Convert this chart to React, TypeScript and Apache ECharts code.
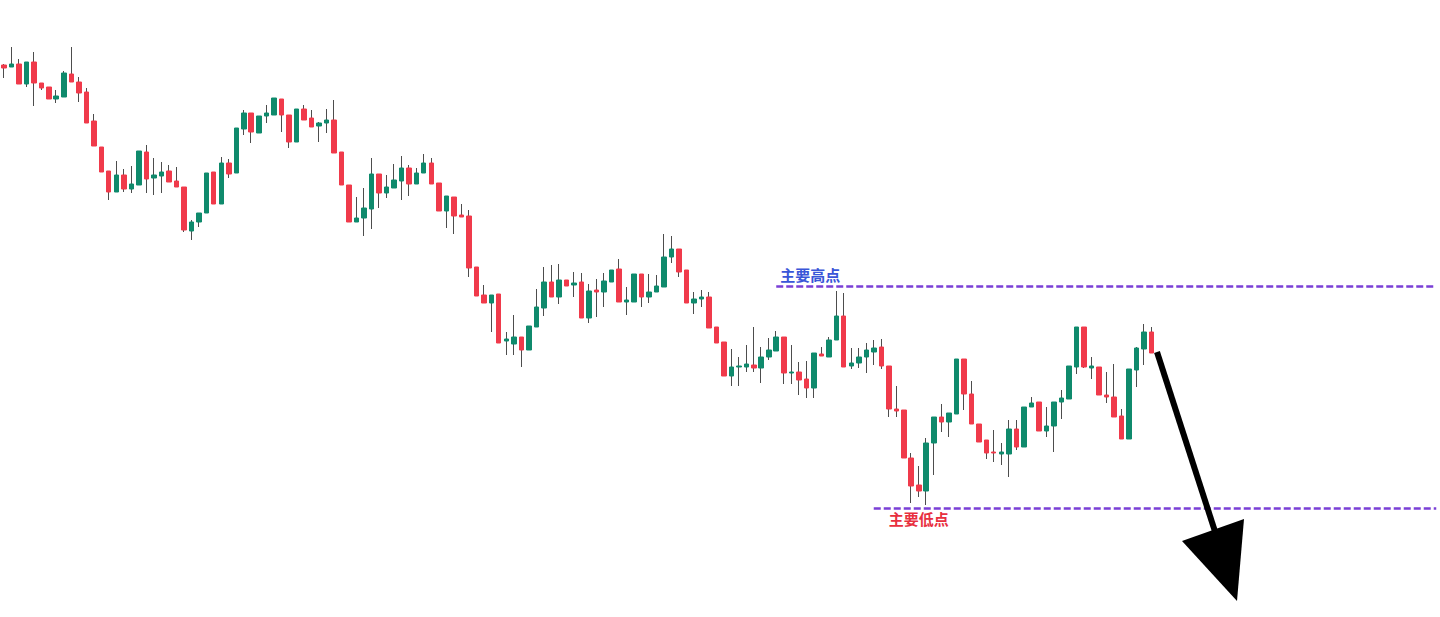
import React, { useEffect, useRef } from "react";
import * as echarts from "echarts";

// Candle values (price units), one entry per session
const opens = [535,533,536,516,538,517,513,501,503,526,518,508,479,453,429,408,425,411,415,448,422,424,429,419,413,369,378,387,428,396,437,427,471,487,467,484,485,501,485,458,491,482,474,477,480,448,415,378,382,391,426,407,412,419,432,416,427,437,417,389,403,385,384,333,305,297,306,259,256,263,250,273,292,318,303,320,315,318,282,310,308,318,331,298,298,326,303,308,313,343,351,330,297,301,303,273,258,224,233,233,235,232,243,249,263,227,228,221,212,246,243,260,284,234,237,243,248,253,234,191,190,142,115,109,157,183,178,186,241,206,176,160,148,146,146,171,153,193,198,169,174,198,201,233,273,232,233,205,203,184,161,230,251,268];
const closes = [532,536,516,538,517,512,501,504,527,518,507,477,454,428,408,425,411,416,449,421,425,428,418,413,370,378,387,427,396,437,426,472,487,468,484,487,502,485,458,491,480,473,477,480,447,415,378,382,392,426,407,413,420,432,416,427,437,416,389,404,384,383,332,304,297,305,257,261,263,250,274,293,318,303,320,314,317,282,309,308,319,330,298,300,326,303,308,314,343,351,328,297,301,303,272,257,224,233,234,236,232,243,250,263,227,228,220,212,247,244,260,284,233,237,243,250,252,234,191,189,142,114,109,157,183,178,187,241,206,176,158,147,147,148,171,153,193,197,169,174,198,202,234,273,233,234,205,203,183,161,231,252,268,247];
const lows = [522,533,516,513,494,510,501,497,503,518,498,477,454,428,400,408,408,407,415,407,405,407,418,413,368,360,373,387,396,396,422,427,465,457,467,477,485,468,452,458,480,473,458,467,447,415,378,378,364,371,392,402,412,400,404,416,427,416,389,372,366,383,323,304,297,268,257,245,245,233,250,273,284,303,296,314,303,282,277,283,293,318,298,285,298,293,297,308,313,337,323,297,286,293,272,257,224,214,214,228,228,217,240,249,216,216,205,202,202,244,243,260,233,231,232,227,235,231,183,183,142,97,103,95,125,168,163,186,190,176,158,141,138,135,123,150,153,193,169,163,148,181,201,226,232,221,205,197,183,161,161,213,235,247];
const highs = [536,553,541,538,548,517,513,510,529,553,523,512,486,453,429,439,431,434,449,455,442,438,435,433,413,380,387,427,428,443,441,472,490,487,484,495,502,501,485,491,495,490,478,491,500,448,415,403,412,442,426,425,436,444,435,432,446,442,417,404,403,396,390,333,315,305,306,268,285,263,274,311,333,335,336,320,328,327,316,321,327,330,341,313,326,326,326,325,366,364,351,330,308,310,308,273,258,251,243,255,273,253,262,269,263,255,238,239,247,253,263,309,307,252,252,257,260,261,234,214,190,147,134,162,183,196,187,241,241,219,176,160,170,157,180,180,193,203,198,193,198,210,234,273,273,243,233,228,236,191,231,253,276,273];

// Horizontal reference levels
const majorHigh = 314;
const majorLow = 92;
const majorHighStart = 104; // category index where the level line starts
const majorLowStart = 117;
const levelLabels = ["主要高点", "主要低点"];

const totalSlots = 192;
const categories = Array.from({ length: totalSlots }, (_, i) => String(i + 1));

const UP = "#0f8a6c";
const DOWN = "#f03a4b";
const WICK = "#4d4d4d";
const LEVEL = "#7a3fd6";

export default function App() {
  const ref = useRef<HTMLDivElement>(null);

  useEffect(() => {
    if (!ref.current) return;
    const chart = echarts.init(ref.current, undefined, { renderer: "svg" });

    const wickData = opens.map((o, i) => [o, closes[i], lows[i], highs[i]]);
    const bodyData = opens.map((o, i) => [
      o,
      closes[i],
      Math.min(o, closes[i]),
      Math.max(o, closes[i]),
    ]);

    chart.setOption({
      animation: false,
      backgroundColor: "#ffffff",
      grid: { left: 0, right: 0, top: 0, bottom: 17 },
      xAxis: {
        type: "category",
        data: categories,
        show: false,
        boundaryGap: true,
      },
      yAxis: {
        type: "value",
        min: 0,
        max: 600,
        show: false,
        splitLine: { show: false },
      },
      series: [
        {
          type: "candlestick",
          name: "wick",
          data: wickData,
          barWidth: 1,
          silent: true,
          itemStyle: {
            color: WICK,
            color0: WICK,
            borderColor: WICK,
            borderColor0: WICK,
            borderWidth: 1,
          },
          z: 2,
        },
        {
          type: "candlestick",
          name: "body",
          data: bodyData,
          barWidth: 5,
          silent: true,
          itemStyle: {
            color: UP,
            color0: DOWN,
            borderColor: UP,
            borderColor0: DOWN,
            borderWidth: 1,
          },
          z: 3,
          markLine: {
            silent: true,
            symbol: ["none", "none"],
            lineStyle: { color: LEVEL, type: [7, 3], width: 2.5 },
            data: [
              [
                {
                  coord: [categories[majorHighStart - 1], majorHigh],
                  label: {
                    show: true,
                    formatter: levelLabels[0],
                    position: "insideStartTop",
                    distance: 4,
                    color: "#3a56d8",
                    fontSize: 15,
                    fontWeight: "bold",
                    fontFamily: "Noto Sans CJK SC",
                  },
                },
                { coord: [categories[totalSlots - 1], majorHigh] },
              ],
              [
                {
                  coord: [categories[majorLowStart - 1], majorLow],
                  label: {
                    show: true,
                    formatter: levelLabels[1],
                    position: "insideStartBottom",
                    distance: 3,
                    padding: [0, 0, 0, 12],
                    color: "#e8303f",
                    fontSize: 15,
                    fontWeight: "bold",
                    fontFamily: "Noto Sans CJK SC",
                  },
                },
                { coord: [categories[totalSlots - 1], majorLow] },
              ],
            ],
          },
        },
      ],
      graphic: [
        {
          type: "polyline",
          shape: { points: [[1157, 352], [1221, 550]] },
          style: { stroke: "#000", lineWidth: 6, fill: null },
          z: 10,
        },
        {
          type: "polygon",
          shape: { points: [[1182, 541], [1244, 519], [1237, 601]] },
          style: { fill: "#000" },
          z: 10,
        },
      ],
    });

    return () => chart.dispose();
  }, []);

  return (
    <div
      ref={ref}
      style={{ position: "fixed", left: 0, top: 0, width: 1440, height: 617, background: "#fff" }}
    />
  );
}
